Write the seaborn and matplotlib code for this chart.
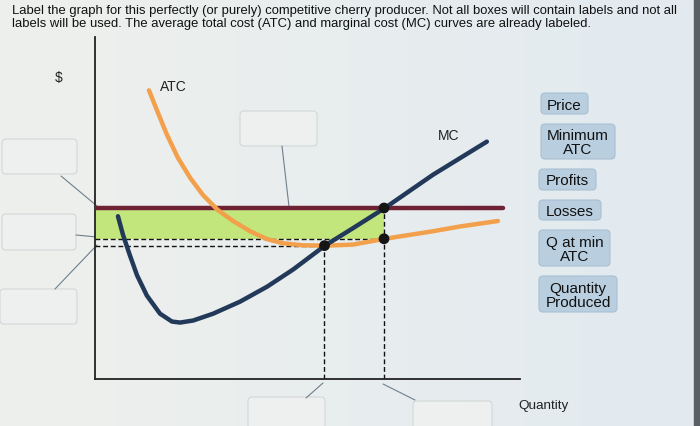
import numpy as np
import pandas as pd
import matplotlib.pyplot as plt
import seaborn as sns
from matplotlib.patches import FancyBboxPatch

# valores (Quantidade 0-10, $ 0-10)
price = 5.0
atc_at_q = 4.1
min_atc = 3.9
q_min = 5.4
q_prod = 6.8
price_end = 9.6

atc_q = [1.27, 1.46, 1.69, 1.95, 2.24, 2.54, 2.89, 3.25, 3.65, 4.05, 4.42, 4.89,
         5.41, 6.07, 6.82, 7.95, 8.59, 9.48]
atc_cost = [8.44, 7.85, 7.15, 6.47, 5.88, 5.38, 4.94, 4.62, 4.32, 4.09, 3.97, 3.91,
            3.90, 3.93, 4.10, 4.32, 4.46, 4.62]

mc_q = [0.54, 0.66, 0.82, 0.99, 1.22, 1.53, 1.81, 2.0, 2.31, 2.78, 3.41, 4.05,
        4.66, 5.41, 6.07, 6.82, 7.95, 9.22]
mc_cost = [4.76, 4.21, 3.62, 3.03, 2.44, 1.91, 1.68, 1.65, 1.71, 1.91, 2.26, 2.70,
           3.20, 3.90, 4.41, 5.00, 5.97, 6.94]

labels = ['Price', 'Minimum\nATC', 'Profits', 'Losses', 'Q at min\nATC', 'Quantity\nProduced']

sns.set_style('white')
plt.rcParams['font.family'] = ['Liberation Sans', 'DejaVu Sans']

fig = plt.figure(figsize=(7, 4.27), dpi=100)

# fundo (foto da tela)
bg = fig.add_axes([0, 0, 1, 1])
bg.set_xlim(0, 700)
bg.set_ylim(427, 0)
bg.axis('off')
grad = np.linspace(0, 1, 256)[None, :, None]
c0 = np.array([238, 240, 236]) / 255
c1 = np.array([226, 234, 240]) / 255
bg.imshow(c0 + (c1 - c0) * grad, extent=(0, 700, 427, 0), aspect='auto', interpolation='bilinear')
bg.add_patch(plt.Rectangle((694, 0), 6, 427, color='#5a5f63'))

bg.text(12, 11, 'Label the graph for this perfectly (or purely) competitive cherry producer. Not all boxes will contain labels and not all',
        fontsize=9.4, va='center', color='#111')
bg.text(12, 24, 'labels will be used. The average total cost (ATC) and marginal cost (MC) curves are already labeled.',
        fontsize=9.4, va='center', color='#111')
bg.text(55, 78, '$', fontsize=10, va='center', color='#222')
bg.text(160, 87, 'ATC', fontsize=10, va='center', color='#222')
bg.text(438, 136, 'MC', fontsize=10, va='center', color='#222')
bg.text(518, 406, 'Quantity', fontsize=9.7, va='center', color='#222')

# caixas vazias + linhas guia
empty_boxes = [(2, 140, 75, 35), (2, 215, 74, 36), (0, 290, 77, 35),
               (240, 112, 77, 35), (248, 398, 77, 32), (413, 402, 79, 30)]
for x, y, w, h in empty_boxes:
    bg.add_patch(FancyBboxPatch((x, y), w, h, boxstyle='round,pad=0,rounding_size=4',
                                fc='#eef0ef', ec='#d3d7d8', lw=0.8))
leaders = [((61, 177), (97, 207)), ((76, 236), (97, 238)), ((55, 290), (97, 246)),
           ((282, 147), (291, 225)), ((306, 399), (323, 384)), ((383, 385), (415, 401))]
for (x0, y0), (x1, y1) in leaders:
    bg.plot([x0, x1], [y0, y1], color='#6f7f8c', lw=0.8)

# etiquetas a direita
label_boxes = [(541, 94, 47, 21), (541, 125, 74, 35), (539, 170, 57, 21),
               (539, 201, 62, 20), (539, 231, 71, 36), (539, 277, 78, 36)]
for (x, y, w, h), lab in zip(label_boxes, labels):
    bg.add_patch(FancyBboxPatch((x, y), w, h, boxstyle='round,pad=0,rounding_size=4',
                                fc='#b9cfe0', ec='#a9c0d2', lw=0.8))
    bg.text(x + w / 2, y + h / 2 + 1, lab, fontsize=11, ha='center', va='center',
            color='#111', linespacing=1.0)

# grafico principal
ax = fig.add_axes([95 / 700, 1 - 380 / 427, 425 / 700, 342 / 427])
ax.set_facecolor('none')
ax.set_xlim(0, 10)
ax.set_ylim(0, 10)
ax.set_xticks([])
ax.set_yticks([])
for s in ['top', 'right']:
    ax.spines[s].set_visible(False)
for s in ['left', 'bottom']:
    ax.spines[s].set_color('#222')
    ax.spines[s].set_linewidth(1.3)

ax.fill_between([0, q_prod], atc_at_q, price, color='#c2e67c', lw=0, zorder=1)

dash = dict(color='#111', lw=1.0, linestyle=(0, (3.5, 2)), zorder=2)
ax.plot([0, q_prod], [atc_at_q, atc_at_q], **dash)
ax.plot([0, q_min], [min_atc, min_atc], **dash)
ax.plot([q_min, q_min], [0, min_atc], **dash)
ax.plot([q_prod, q_prod], [0, price], **dash)

sns.lineplot(x=[0, price_end], y=[price, price], ax=ax, color='#6e2233', lw=3.2, zorder=3)
sns.lineplot(x=atc_q, y=atc_cost, ax=ax, sort=False, color='#f2a04c', lw=3.2, zorder=3)
sns.lineplot(x=mc_q, y=mc_cost, ax=ax, sort=False, color='#22395a', lw=3.2, zorder=4)
sns.scatterplot(x=[q_min, q_prod, q_prod], y=[min_atc, atc_at_q, price], ax=ax,
                s=60, color='#151515', edgecolor='none', zorder=5)

fig.savefig('out.png', dpi=100)
